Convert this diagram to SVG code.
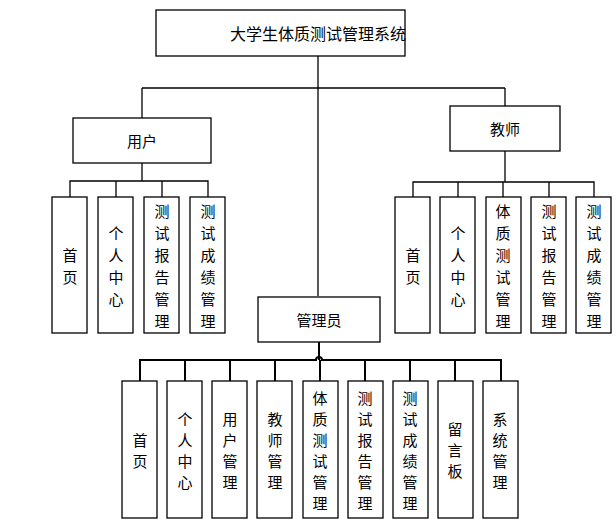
<svg xmlns="http://www.w3.org/2000/svg" width="616" height="532" viewBox="0 0 616 532">
<style>
rect{fill:#fff;stroke:#000;stroke-width:1.3}
text{font-family:"Noto Sans CJK SC","Noto Sans",sans-serif;font-size:15px;text-anchor:middle;dominant-baseline:central;fill:#000}
.c path{fill:none;stroke:#000;stroke-width:1.3}
.c .b{stroke-width:2}
</style>
<g class="c" id="connectors">
<path d="M318 56V296M142 88H505M142 88V118M505 88V106"/>
<path d="M142 163V181M70 197V181H208V197M116 181V197M162 181V197"/>
<path d="M505 151V182M413 197V182H594V197M458 182V197M503 182V197M549 182V197"/>
<path class="b" d="M319 342V360M140 381V360H316A3 3 0 0 1 322 360H501V381M185 360V381M230 360V381M275 360V381M320 360V381M365 360V381M410 360V381M455 360V381"/>
</g>
<g id="root"><rect x="156" y="10" width="249" height="46"/><text x="318" y="33" style="font-size:16px">大学生体质测试管理系统</text></g>
<g id="user"><rect x="73" y="118" width="138" height="45"/><text x="142" y="140">用户</text></g>
<g id="teacher"><rect x="450" y="106" width="110" height="45"/><text x="505" y="128">教师</text></g>
<g id="admin"><rect x="258" y="297" width="122" height="45"/><text x="319" y="319">管理员</text></g>
<g id="u1"><rect x="52" y="197" width="35" height="136"/><text x="70" y="254">首</text><text x="70" y="276">页</text></g>
<g id="u2"><rect x="98" y="197" width="35" height="136"/><text x="116" y="232">个</text><text x="116" y="254">人</text><text x="116" y="276">中</text><text x="116" y="298">心</text></g>
<g id="u3"><rect x="144" y="197" width="35" height="136"/><text x="162" y="210">测</text><text x="162" y="232">试</text><text x="162" y="254">报</text><text x="162" y="276">告</text><text x="162" y="298">管</text><text x="162" y="320">理</text></g>
<g id="u4"><rect x="190" y="197" width="35" height="136"/><text x="208" y="210">测</text><text x="208" y="232">试</text><text x="208" y="254">成</text><text x="208" y="276">绩</text><text x="208" y="298">管</text><text x="208" y="320">理</text></g>
<g id="t1"><rect x="395" y="197" width="35" height="136"/><text x="413" y="254">首</text><text x="413" y="276">页</text></g>
<g id="t2"><rect x="440" y="197" width="35" height="136"/><text x="458" y="232">个</text><text x="458" y="254">人</text><text x="458" y="276">中</text><text x="458" y="298">心</text></g>
<g id="t3"><rect x="486" y="197" width="35" height="136"/><text x="503" y="210">体</text><text x="503" y="232">质</text><text x="503" y="254">测</text><text x="503" y="276">试</text><text x="503" y="298">管</text><text x="503" y="320">理</text></g>
<g id="t4"><rect x="531" y="197" width="35" height="136"/><text x="549" y="210">测</text><text x="549" y="232">试</text><text x="549" y="254">报</text><text x="549" y="276">告</text><text x="549" y="298">管</text><text x="549" y="320">理</text></g>
<g id="t5"><rect x="576" y="197" width="35" height="136"/><text x="594" y="210">测</text><text x="594" y="232">试</text><text x="594" y="254">成</text><text x="594" y="276">绩</text><text x="594" y="298">管</text><text x="594" y="320">理</text></g>
<g id="a1"><rect x="122" y="381" width="35" height="137"/><text x="140" y="439">首</text><text x="140" y="460">页</text></g>
<g id="a2"><rect x="167" y="381" width="35" height="137"/><text x="185" y="418">个</text><text x="185" y="439">人</text><text x="185" y="460">中</text><text x="185" y="481">心</text></g>
<g id="a3"><rect x="212" y="381" width="35" height="137"/><text x="230" y="418">用</text><text x="230" y="439">户</text><text x="230" y="460">管</text><text x="230" y="481">理</text></g>
<g id="a4"><rect x="257" y="381" width="35" height="137"/><text x="275" y="418">教</text><text x="275" y="439">师</text><text x="275" y="460">管</text><text x="275" y="481">理</text></g>
<g id="a5"><rect x="303" y="381" width="35" height="137"/><text x="320" y="397">体</text><text x="320" y="418">质</text><text x="320" y="439">测</text><text x="320" y="460">试</text><text x="320" y="481">管</text><text x="320" y="502">理</text></g>
<g id="a6"><rect x="348" y="381" width="35" height="137"/><text x="365" y="397">测</text><text x="365" y="418">试</text><text x="365" y="439">报</text><text x="365" y="460">告</text><text x="365" y="481">管</text><text x="365" y="502">理</text></g>
<g id="a7"><rect x="393" y="381" width="35" height="137"/><text x="410" y="397">测</text><text x="410" y="418">试</text><text x="410" y="439">成</text><text x="410" y="460">绩</text><text x="410" y="481">管</text><text x="410" y="502">理</text></g>
<g id="a8"><rect x="438" y="381" width="35" height="137"/><text x="455" y="428">留</text><text x="455" y="449">言</text><text x="455" y="470">板</text></g>
<g id="a9"><rect x="483" y="381" width="35" height="137"/><text x="500" y="418">系</text><text x="500" y="439">统</text><text x="500" y="460">管</text><text x="500" y="481">理</text></g>
</svg>
